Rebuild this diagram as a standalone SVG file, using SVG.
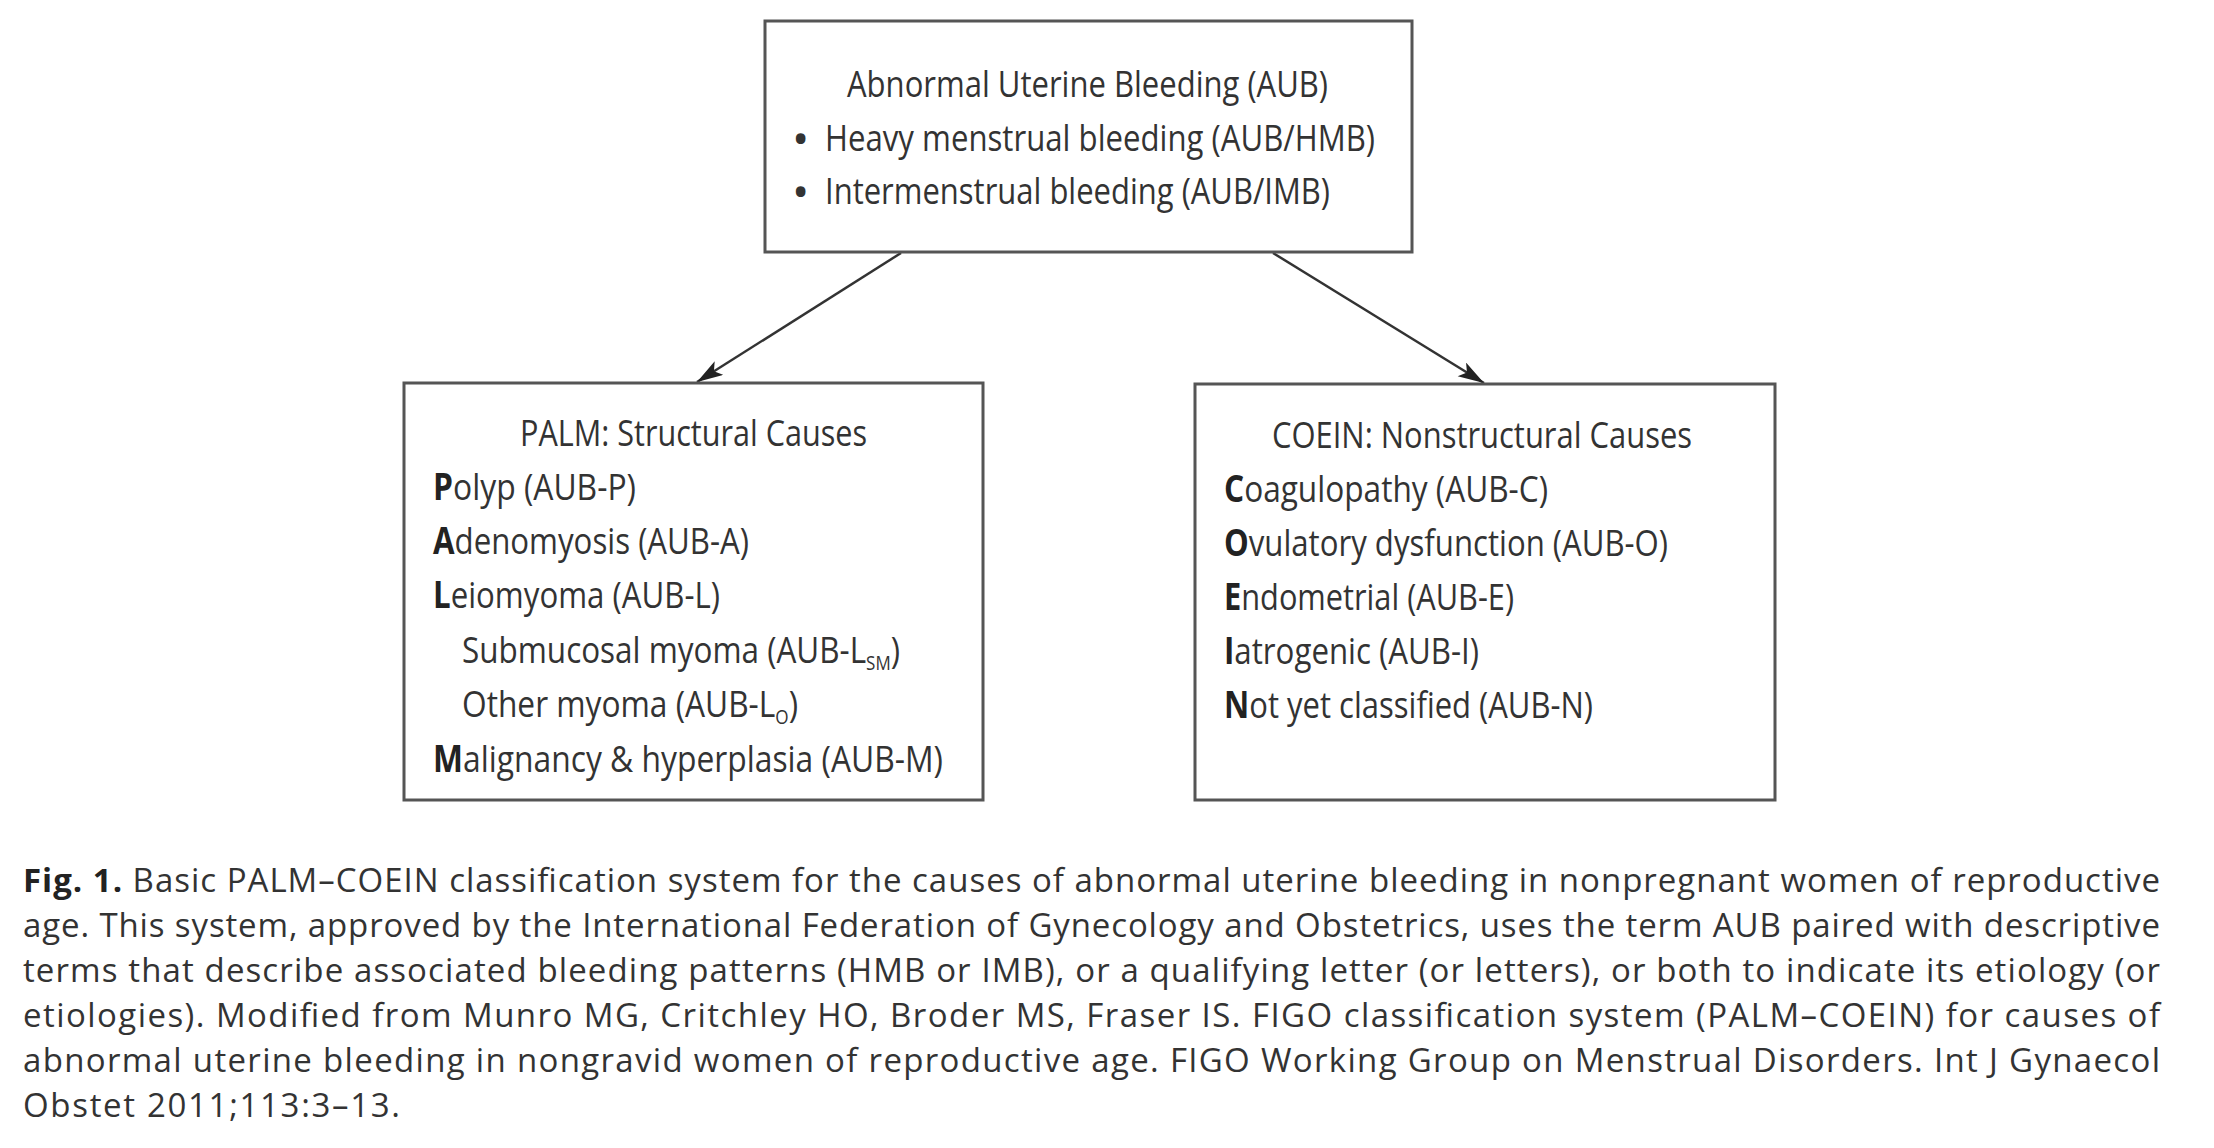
<svg xmlns="http://www.w3.org/2000/svg" width="2214" height="1148" viewBox="0 0 2214 1148">
<style>
.bg{fill:#fff}
.box{fill:#fff;stroke:#555;stroke-width:3}
.t{font-family:"Open Sans","Noto Sans","Liberation Sans",sans-serif;font-size:37px;fill:#333}
.bul{font-family:"Open Sans","Noto Sans","Liberation Sans",sans-serif;font-size:46px;fill:#333}
.b{font-weight:700;fill:#222}
.sub{font-size:20px}
.cap{font-family:"Open Sans","Noto Sans","Liberation Sans",sans-serif;font-size:33px;fill:#333}
.conn{stroke:#333;stroke-width:2.5;fill:none}
</style>
<defs>
<marker id="arr" markerUnits="userSpaceOnUse" markerWidth="30" markerHeight="20" refX="26" refY="8" orient="auto">
<path d="M0,0 L26,8 L0,16 L6,8 Z" fill="#222"/>
</marker>
</defs>
<rect class="bg" x="0" y="0" width="2214" height="1148"/>

<g id="connectors">
<line class="conn" x1="901" y1="253" x2="697" y2="382" marker-end="url(#arr)"/>
<line class="conn" x1="1273" y1="253" x2="1484" y2="383" marker-end="url(#arr)"/>
</g>

<g id="node-aub">
<rect class="box" x="765" y="21" width="647" height="231"/>
<text class="t" x="847" y="97" textLength="481" lengthAdjust="spacingAndGlyphs">Abnormal Uterine Bleeding (AUB)</text>
<text class="bul" x="792" y="155">•</text>
<text class="t" x="825" y="151" textLength="550" lengthAdjust="spacingAndGlyphs">Heavy menstrual bleeding (AUB/HMB)</text>
<text class="bul" x="792" y="208">•</text>
<text class="t" x="825" y="204" textLength="505" lengthAdjust="spacingAndGlyphs">Intermenstrual bleeding (AUB/IMB)</text>
</g>

<g id="node-palm">
<rect class="box" x="404" y="383" width="579" height="417"/>
<text class="t" x="520" y="446" textLength="347" lengthAdjust="spacingAndGlyphs">PALM: Structural Causes</text>
<text class="t" x="433" y="500" textLength="203" lengthAdjust="spacingAndGlyphs"><tspan class="b">P</tspan>olyp (AUB-P)</text>
<text class="t" x="433" y="554" textLength="316" lengthAdjust="spacingAndGlyphs"><tspan class="b">A</tspan>denomyosis (AUB-A)</text>
<text class="t" x="433" y="608" textLength="287" lengthAdjust="spacingAndGlyphs"><tspan class="b">L</tspan>eiomyoma (AUB-L)</text>
<text class="t" x="462" y="663" textLength="438" lengthAdjust="spacingAndGlyphs">Submucosal myoma (AUB-L<tspan class="sub" dy="7">SM</tspan><tspan dy="-7">)</tspan></text>
<text class="t" x="462" y="717" textLength="336" lengthAdjust="spacingAndGlyphs">Other myoma (AUB-L<tspan class="sub" dy="7">O</tspan><tspan dy="-7">)</tspan></text>
<text class="t" x="433" y="772" textLength="510" lengthAdjust="spacingAndGlyphs"><tspan class="b">M</tspan>alignancy &amp; hyperplasia (AUB-M)</text>
</g>

<g id="node-coein">
<rect class="box" x="1195" y="384" width="580" height="416"/>
<text class="t" x="1272" y="448" textLength="420" lengthAdjust="spacingAndGlyphs">COEIN: Nonstructural Causes</text>
<text class="t" x="1224" y="502" textLength="324" lengthAdjust="spacingAndGlyphs"><tspan class="b">C</tspan>oagulopathy (AUB-C)</text>
<text class="t" x="1224" y="556" textLength="444" lengthAdjust="spacingAndGlyphs"><tspan class="b">O</tspan>vulatory dysfunction (AUB-O)</text>
<text class="t" x="1224" y="610" textLength="290" lengthAdjust="spacingAndGlyphs"><tspan class="b">E</tspan>ndometrial (AUB-E)</text>
<text class="t" x="1224" y="664" textLength="255" lengthAdjust="spacingAndGlyphs"><tspan class="b">I</tspan>atrogenic (AUB-I)</text>
<text class="t" x="1224" y="718" textLength="369" lengthAdjust="spacingAndGlyphs"><tspan class="b">N</tspan>ot yet classified (AUB-N)</text>
</g>

<g id="caption">
<text class="cap" x="23" y="892" textLength="2137" lengthAdjust="spacing"><tspan class="b">Fig. 1.</tspan> Basic PALM–COEIN classification system for the causes of abnormal uterine bleeding in nonpregnant women of reproductive</text>
<text class="cap" x="23" y="937" textLength="2137" lengthAdjust="spacing">age. This system, approved by the International Federation of Gynecology and Obstetrics, uses the term AUB paired with descriptive</text>
<text class="cap" x="23" y="982" textLength="2137" lengthAdjust="spacing">terms that describe associated bleeding patterns (HMB or IMB), or a qualifying letter (or letters), or both to indicate its etiology (or</text>
<text class="cap" x="23" y="1027" textLength="2137" lengthAdjust="spacing">etiologies). Modified from Munro MG, Critchley HO, Broder MS, Fraser IS. FIGO classification system (PALM–COEIN) for causes of</text>
<text class="cap" x="23" y="1072" textLength="2137" lengthAdjust="spacing">abnormal uterine bleeding in nongravid women of reproductive age. FIGO Working Group on Menstrual Disorders. Int J Gynaecol</text>
<text class="cap" x="23" y="1117" textLength="377" lengthAdjust="spacing">Obstet 2011;113:3–13.</text>
</g>
</svg>
